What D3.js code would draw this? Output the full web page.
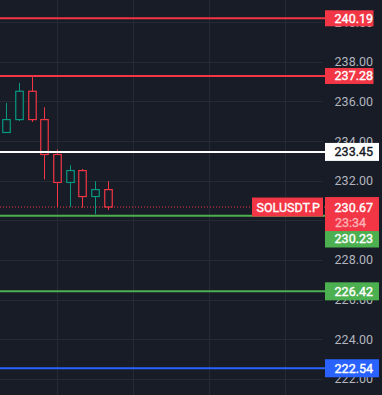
<!DOCTYPE html>
<html>
  <head>
    <meta charset="utf-8">
    <title>SOLUSDT.P</title>
    <script src="https://d3js.org/d3.v7.min.js"></script>
    <style>
     html, body { margin: 0; padding: 0; background: #181c27; }
     svg { display: block; font-family: Roboto, "Liberation Sans", sans-serif; }
     .tag { font-size: 12.5px; stroke-width: 0.35px; }
    </style>
  </head>
  <body>
    <svg id="chart"></svg>
    <script>
     // candles, oldest first
     var opens  = [234.43, 235.08, 236.51, 235.08, 233.32, 231.91, 232.51, 231.20, 231.55];
     var highs  = [235.92, 236.93, 237.28, 235.70, 233.57, 232.78, 232.59, 231.97, 231.97];
     var lows   = [234.43, 235.01, 234.96, 232.06, 230.67, 230.67, 230.64, 230.31, 230.52];
     var closes = [235.08, 236.51, 235.08, 233.32, 231.91, 232.51, 231.20, 231.55, 230.67];

     // horizontal level lines
     var levelValues = [240.19, 237.28, 233.45, 230.23, 226.42, 222.54];
     var levelColors = ["#f23645", "#f23645", "#ffffff", "#4caf50", "#4caf50", "#2962ff"];
     var levelText   = ["#ffffff", "#ffffff", "#131722", "#ffffff", "#ffffff", "#ffffff"];

     var yTicks = [222, 224, 226, 228, 230, 232, 234, 236, 238, 240];
     var xGridIdx = [4, 10, 16, 22];

     var symbol = "SOLUSDT.P";
     var lastPrice = 230.67;
     var countdown = "23:34";

     var W = 382, H = 395, plotRight = 323, labelLeft = 325, textRight = 373;
     var red = "#f23645", green = "#089981";

     var x = d3.scaleLinear().domain([-0.5, 25]).range([0, plotRight]);
     var y = d3.scaleLinear().domain([224, 238]).range([339.3, 61.7]);
     var bodyW = 7.5;

     var svg = d3.select("#chart").attr("width", W).attr("height", H);
     svg.append("rect").attr("width", W).attr("height", H).attr("fill", "#181c27");

     // grid
     svg.append("g").selectAll("line").data(yTicks).join("line")
	.attr("x1", 0).attr("x2", plotRight)
	.attr("y1", function(d) { return Math.round(y(d)) + 0.5; })
	.attr("y2", function(d) { return Math.round(y(d)) + 0.5; })
	.attr("stroke", "#262a35").attr("stroke-width", 1);
     svg.append("g").selectAll("line").data(xGridIdx).join("line")
	.attr("x1", function(d) { return Math.round(x(d)) + 0.5; })
	.attr("x2", function(d) { return Math.round(x(d)) + 0.5; })
	.attr("y1", 0).attr("y2", H)
	.attr("stroke", "#262a35").attr("stroke-width", 1);

     // price axis tick labels (some sit under the level tags, as in the original)
     svg.append("g").selectAll("text").data(yTicks).join("text")
	.attr("x", textRight).attr("y", function(d) { return y(d); })
	.attr("dy", "0.36em").attr("text-anchor", "end")
	.attr("font-size", 12.5).attr("fill", "#b2b5be")
	.text(function(d) { return d3.format(".2f")(d); });

     // candles
     var idx = d3.range(opens.length);
     var cg = svg.append("g");
     function col(i) { return closes[i] >= opens[i] ? green : red; }
     function cx(i) { return Math.round(x(i)) + 0.5; }
     cg.selectAll(".wickTop").data(idx).join("line")
	.attr("x1", cx).attr("x2", cx)
	.attr("y1", function(i) { return y(highs[i]); })
	.attr("y2", function(i) { return y(Math.max(opens[i], closes[i])); })
	.attr("stroke", col);
     cg.selectAll(".wickBot").data(idx).join("line")
	.attr("x1", cx).attr("x2", cx)
	.attr("y1", function(i) { return y(Math.min(opens[i], closes[i])); })
	.attr("y2", function(i) { return y(lows[i]); })
	.attr("stroke", col);
     cg.selectAll("rect").data(idx).join("rect")
	.attr("x", function(i) { return cx(i) - bodyW / 2; })
	.attr("width", bodyW)
	.attr("y", function(i) { return y(Math.max(opens[i], closes[i])); })
	.attr("height", function(i) { return Math.max(1, Math.abs(y(opens[i]) - y(closes[i]))); })
	.attr("fill", "#181c27").attr("stroke", col).attr("stroke-width", 1.2);

     // last price dotted line
     svg.append("line")
	.attr("x1", 0).attr("x2", labelLeft)
	.attr("y1", y(lastPrice)).attr("y2", y(lastPrice))
	.attr("stroke", red).attr("stroke-width", 1).attr("stroke-dasharray", "1,2");

     // level lines
     svg.append("g").selectAll("line").data(levelValues).join("line")
	.attr("x1", 0).attr("x2", labelLeft)
	.attr("y1", function(d) { return y(d); }).attr("y2", function(d) { return y(d); })
	.attr("stroke", function(d, i) { return levelColors[i]; })
	.attr("stroke-width", 2);

     // symbol tag
     var sy = y(lastPrice);
     svg.append("rect").attr("x", 252).attr("y", sy - 9.5).attr("width", 71).attr("height", 19)
	.attr("fill", red);
     svg.append("text").attr("class", "tag").attr("x", 256.5).attr("y", sy).attr("dy", "0.36em")
	.attr("text-anchor", "start").attr("fill", "#ffffff").attr("stroke", "#ffffff")
	.text(symbol);

     // level labels on price scale
     var lg = svg.append("g");
     levelValues.forEach(function(v, i) {
	 var cy = y(v), h = 18, w = 54;
	 if (i < 2) { h = 16; w = 48.5; }
	 if (v === 230.23) cy = 238.5; // pushed below the last price label
	 lg.append("rect").attr("x", labelLeft).attr("y", cy - h / 2)
	   .attr("width", w).attr("height", h).attr("fill", levelColors[i]);
	 lg.append("text").attr("class", "tag").attr("x", textRight).attr("y", cy).attr("dy", "0.36em")
	   .attr("text-anchor", "end").attr("fill", levelText[i]).attr("stroke", levelText[i])
	   .text(d3.format(".2f")(v));
     });

     // last price label with countdown
     var ly = sy - 10;
     lg.append("rect").attr("x", labelLeft).attr("y", ly).attr("width", 54).attr("height", 34)
       .attr("fill", red);
     lg.append("text").attr("class", "tag").attr("x", textRight).attr("y", sy).attr("dy", "0.36em")
       .attr("text-anchor", "end").attr("fill", "#ffffff").attr("stroke", "#ffffff")
       .text(d3.format(".2f")(lastPrice));
     lg.append("text").attr("class", "tag").attr("x", 335).attr("y", sy + 15.5).attr("dy", "0.36em")
       .attr("text-anchor", "start").attr("fill", "#fbb0b6").attr("stroke", "#fbb0b6")
       .text(countdown);
    </script>
  </body>
</html>
